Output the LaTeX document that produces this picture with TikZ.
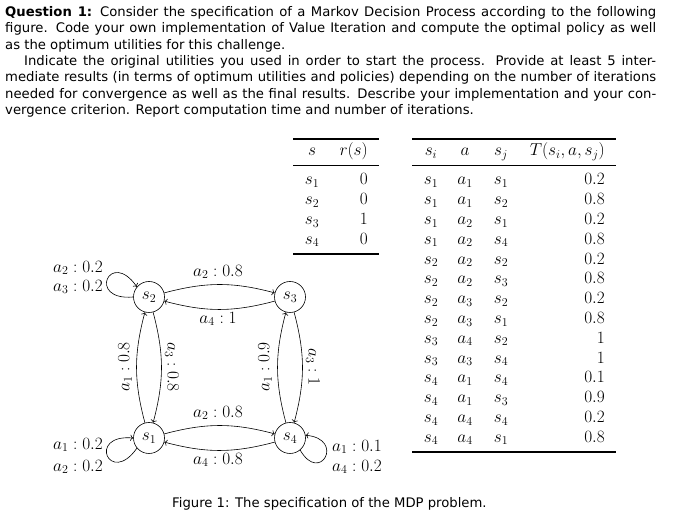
\documentclass[tikz,border=0pt]{standalone}
\usepackage{fontspec}
\setmainfont{DejaVu Sans}
\usetikzlibrary{arrows.meta}
\newcommand\txtsize{\fontsize{13.2}{16.3}\selectfont}
\newcommand\figsize{\fontsize{16.5}{19.8}\selectfont}
\tikzset{
  txt/.style={inner sep=0pt, anchor=base west, font=\txtsize},
  state/.style={circle, draw, line width=0.6pt, minimum size=31pt, inner sep=0pt, font=\figsize},
  edge/.style={->, line width=0.6pt},
  lab/.style={inner sep=0pt, font=\figsize},
  cell/.style={inner sep=0pt, font=\figsize},
  toprule/.style={line width=1.3pt},
  midrule/.style={line width=0.8pt}
}
\begin{document}
\begin{tikzpicture}[x=1pt,y=1pt]
\useasboundingbox (0,0) rectangle (684,518);
% ---- question text
\node[txt] (t1) at (5,501.3) {\makebox[651pt][s]{\textbf{Question 1:} Consider the specification of a Markov Decision Process according to the following}};
\node[txt] (t2) at (5,485) {\makebox[651pt][s]{figure.  Code your own implementation of Value Iteration and compute the optimal policy as well}};
\node[txt] (t3) at (5,468.7) {as the optimum utilities for this challenge.};
\node[txt] (t4) at (24,452.4) {\makebox[632pt][s]{Indicate the original utilities you used in order to start the process.  Provide at least 5 inter-}};
\node[txt] (t5) at (5,436.1) {\makebox[651pt][s]{mediate results (in terms of optimum utilities and policies) depending on the number of iterations}};
\node[txt] (t6) at (5,419.8) {\makebox[651pt][s]{needed for convergence as well as the final results.  Describe your implementation and your con-}};
\node[txt] (t7) at (5,403.5) {vergence criterion. Report computation time and number of iterations.};
% ---- caption
\node[txt] (cap) at (172,10.7) {Figure 1: The specification of the MDP problem.};
% ---- graph
\node[state] (s1) at (149,80) {$s_1$};
\node[state] (s2) at (149,221) {$s_2$};
\node[state] (s3) at (290,221) {$s_3$};
\node[state] (s4) at (290,80) {$s_4$};
\draw[edge] (s2) to[bend left=15] (s3);
\draw[edge] (s3) to[bend left=15] (s2);
\draw[edge] (s1) to[bend left=15] (s4);
\draw[edge] (s4) to[bend left=15] (s1);
\draw[edge] (s1) to[bend left=15] (s2);
\draw[edge] (s2) to[bend left=15] (s1);
\draw[edge] (s4) to[bend left=15] (s3);
\draw[edge] (s3) to[bend left=15] (s4);
\draw[edge] (s2.180) to[out=185,in=125,distance=47] (s2.140);
\draw[edge] (s1.220) to[out=235,in=175,distance=47] (s1.180);
\draw[edge] (s4.310) to[out=-60,in=-5,distance=40] (s4.10);
\node[lab] (l23) at (218,246) {$a_2:0.8$};
\node[lab] (l32) at (218,199) {$a_4:1$};
\node[lab] (l14) at (218,105) {$a_2:0.8$};
\node[lab] (l41) at (218,58) {$a_4:0.8$};
\node[lab,rotate=90] (l12) at (125,151) {$a_1:0.8$};
\node[lab,rotate=-90] (l21) at (172,151) {$a_3:0.8$};
\node[lab,rotate=90] (l43) at (265,151) {$a_1:0.9$};
\node[lab,rotate=-90] (l34) at (313,151) {$a_3:1$};
\node[lab] (l2a) at (78,250) {$a_2:0.2$};
\node[lab] (l2b) at (78,231) {$a_3:0.2$};
\node[lab] (l1a) at (78,73) {$a_1:0.2$};
\node[lab] (l1b) at (78,51) {$a_2:0.2$};
\node[lab] (l4a) at (357,71) {$a_1:0.1$};
\node[lab] (l4b) at (357,51) {$a_4:0.2$};
% ---- table r(s)
\draw[toprule] (293,379) -- (379,379);
\draw[midrule] (293,353) -- (379,353);
\draw[toprule] (293,264) -- (379,264);
\node[cell,anchor=base] (rh1) at (312,362) {$s$};
\node[cell,anchor=base east] (rh2) at (368,362) {$r(s)$};
\foreach \s/\r [count=\k from 0] in {1/0,2/0,3/1,4/0} {
  \node[cell,anchor=base] (rs\k) at (312,{333-19.8*\k}) {$s_{\s}$};
  \node[cell,anchor=base east] (rr\k) at (368,{333-19.8*\k}) {$\r$};
}
% ---- table T
\draw[toprule] (412,379) -- (616,379);
\draw[midrule] (412,353) -- (616,353);
\draw[toprule] (412,66) -- (616,66);
\node[cell,anchor=base] (th1) at (431,362) {$s_i$};
\node[cell,anchor=base] (th2) at (465,362) {$a$};
\node[cell,anchor=base] (th3) at (501,362) {$s_j$};
\node[cell,anchor=base east] (th4) at (605,362) {$T(s_i,a,s_j)$};
\foreach \si/\a/\sj/\t [count=\k from 0] in {1/1/1/0.2,1/1/2/0.8,1/2/1/0.2,1/2/4/0.8,2/2/2/0.2,2/2/3/0.8,2/3/2/0.2,2/3/1/0.8,3/4/2/1,3/3/4/1,4/1/4/0.1,4/1/3/0.9,4/4/4/0.2,4/4/1/0.8} {
  \node[cell,anchor=base] (ti\k) at (431,{333-19.8*\k}) {$s_{\si}$};
  \node[cell,anchor=base] (ta\k) at (465,{333-19.8*\k}) {$a_{\a}$};
  \node[cell,anchor=base] (tj\k) at (501,{333-19.8*\k}) {$s_{\sj}$};
  \node[cell,anchor=base east] (tt\k) at (605,{333-19.8*\k}) {$\t$};
}
\end{tikzpicture}
\end{document}
